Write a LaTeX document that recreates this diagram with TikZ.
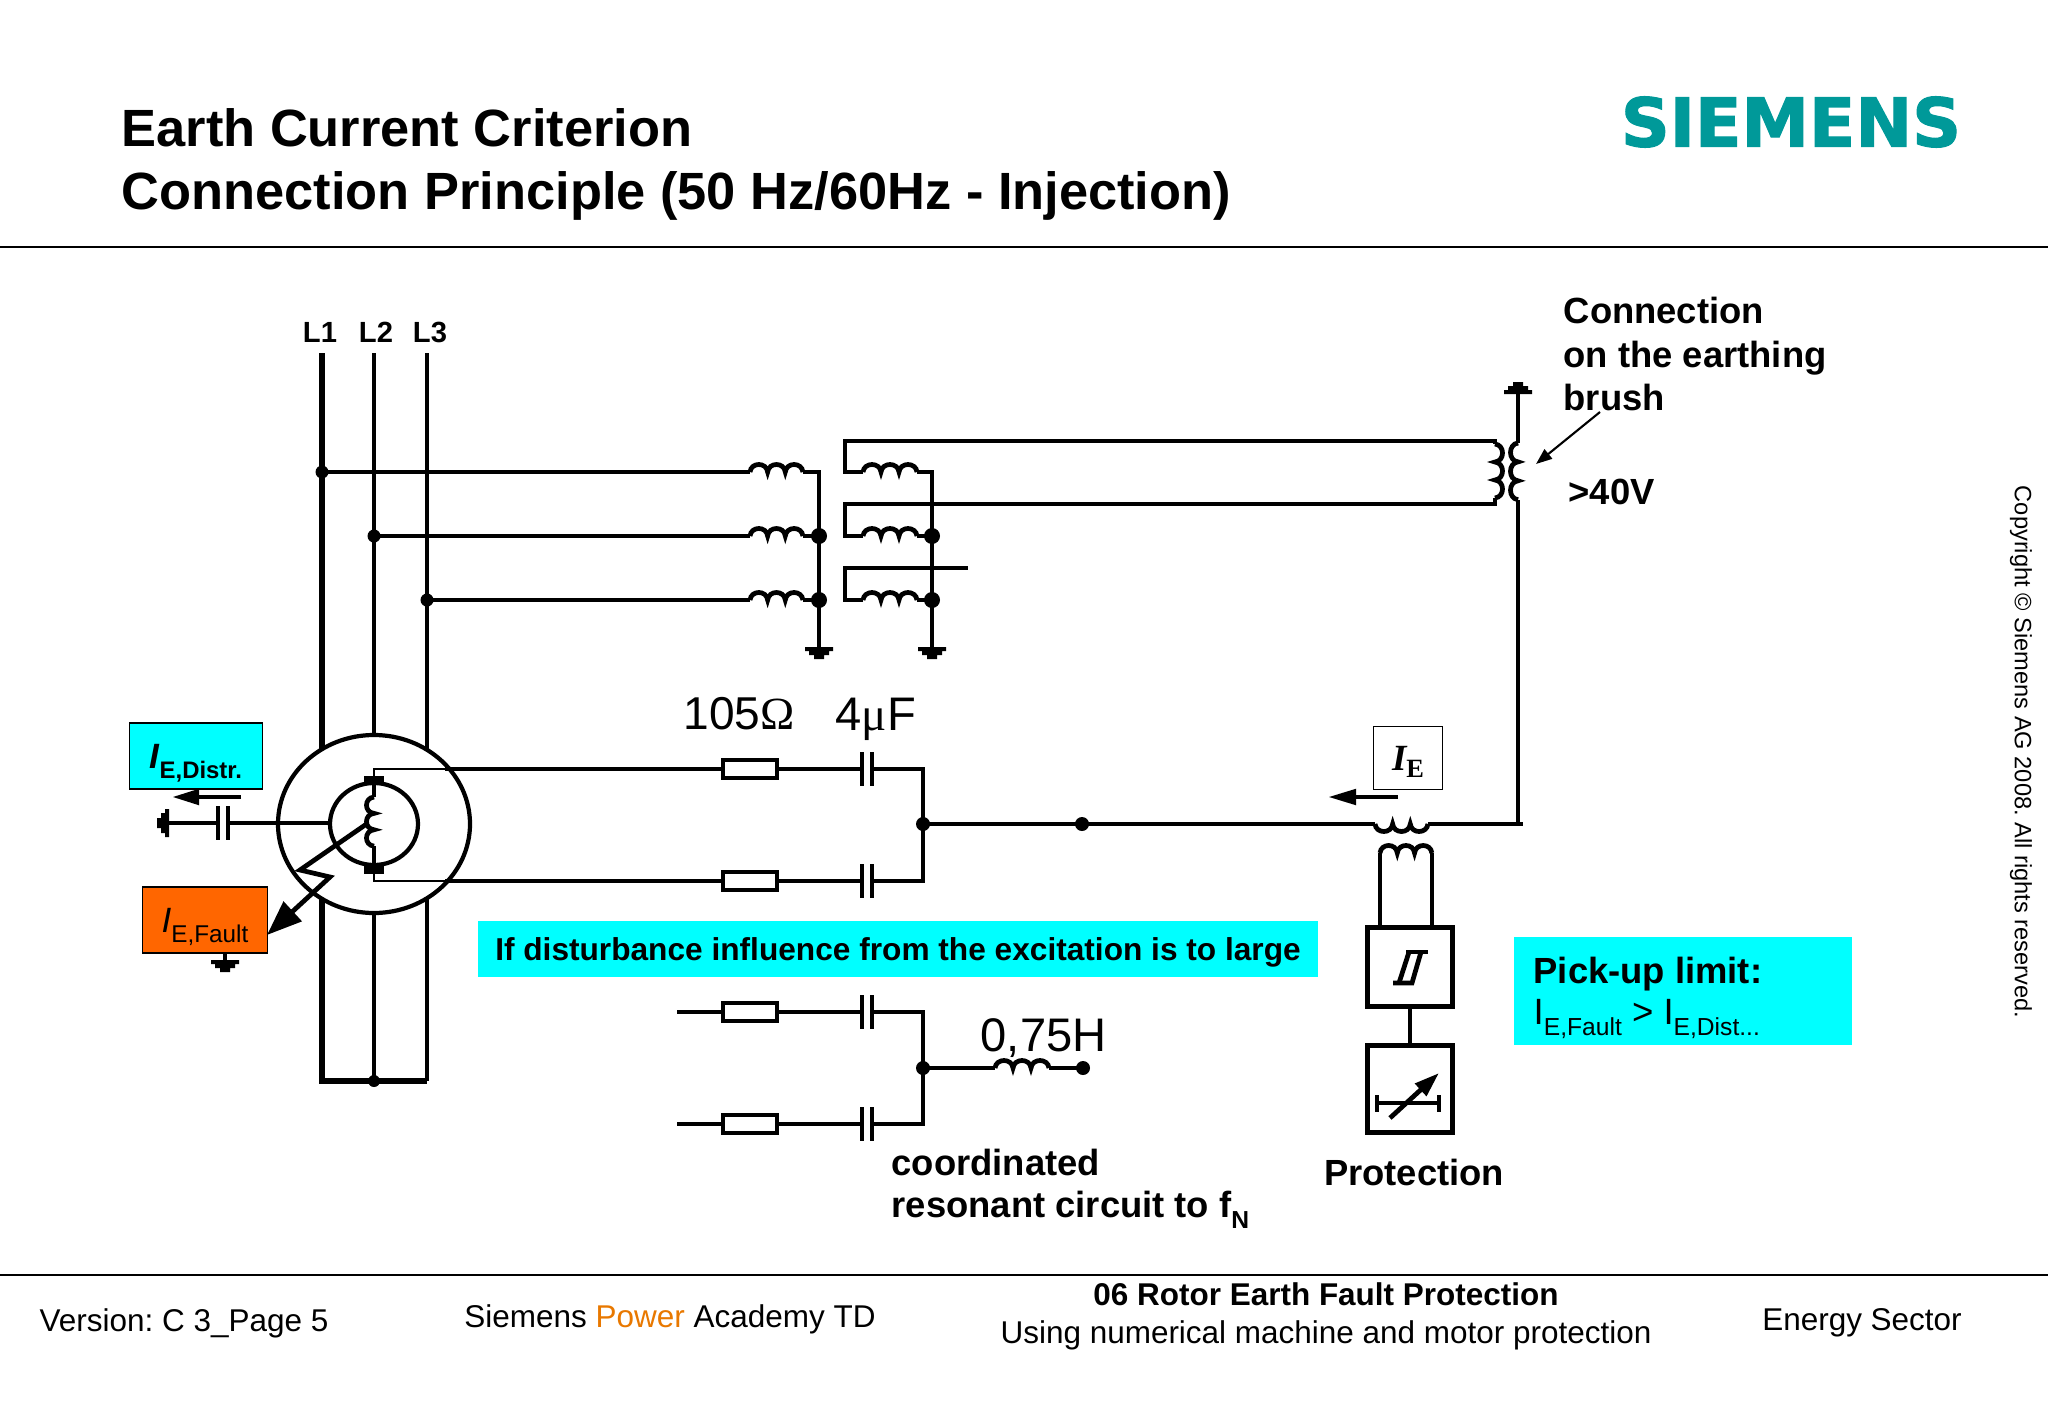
\documentclass[tikz,border=0pt]{standalone}
\usepackage{fontspec}
\setmainfont{Liberation Sans}
\newfontfamily\serifsym{Liberation Serif}
\newfontfamily\logofont[BoldFeatures={FakeBold=1.6}]{DejaVu Sans}
\usetikzlibrary{arrows.meta}
\frenchspacing
\definecolor{siemensteal}{HTML}{009999}
\definecolor{faultorange}{HTML}{FF6600}
\definecolor{powerorange}{HTML}{E87800}
\definecolor{hintcyan}{HTML}{00FFFF}
\def\fsize#1{\fontsize{#1}{#1}\selectfont}
\def\lowtext#1#2#3{\raisebox{-#1pt}{\fsize{#2}#3}}
\def\coil[#1](#2){\draw[wire,shift={(#2)},#1] (0,0) .. controls (1,-10) and (17,-10) .. (18,0) .. controls (19,-10) and (35,-10) .. (36,0) .. controls (37,-10) and (53,-10) .. (54,0);}
\def\earth[#1](#2){\fill[shift={(#2)},rotate=#1] (-14,0) rectangle (14,4) (-10,4) rectangle (10,8) (-5,8) rectangle (5,12);}
\def\resistor(#1){\draw[wire,fill=white,shift={(#1)}] (-27,-9) rectangle (27,9);}
\def\capacitor(#1){\fill[white,shift={(#1)}] (-5,-12) rectangle (5,12); \draw[wire,shift={(#1)}] (-5,-17) -- (-5,17) (5,-17) -- (5,17);}
\def\junction[#1](#2){\fill (#2) circle (#1);}
\tikzset{
	wire/.style={line width=1.35pt},
	thinwire/.style={line width=0.5pt},
	busbar/.style={line width=1.8pt},
	label/.style={inner sep=0pt,font=\bfseries\fsize{10.35}},
	value/.style={inner sep=0pt,font=\fsize{13.4}},
	foot/.style={inner sep=0pt,font=\fsize{8.95}},
	frame/.style={draw,line width=1.2pt,inner sep=0pt,minimum width=0.85cm},
	tag/.style={draw,line width=0.5pt,inner sep=0pt,text depth=0pt}
}

\begin{document}
\begin{tikzpicture}[x=0.01cm,y=-0.01cm]
			%%%%% START %%%%%
			\useasboundingbox (0,0) rectangle (2048,1418);

			\node[inner sep=0pt,anchor=west,font=\bfseries\fsize{14.9}] (title1) at (121,128) {Earth Current Criterion};
			\node[inner sep=0pt,anchor=west,font=\bfseries\fsize{14.9}] (title2) at (121,196) {Connection Principle (50 Hz/60Hz - Injection)};
			\node[inner sep=0pt,text=siemensteal] (logo) at (1791,122) {\resizebox{3.4cm}{0.5cm}{\logofont\bfseries SIEMENS}};
			\draw[line width=0.4pt] (0,247) -- (2048,247);
			\draw[line width=0.4pt] (0,1275) -- (2048,1275);

			\coordinate (l1top) at (322,353);
			\coordinate (l2top) at (374,353);
			\coordinate (l3top) at (427,353);
			\coordinate (l1bot) at (322,1081);
			\coordinate (l2bot) at (374,1081);
			\coordinate (l3bot) at (427,1081);
			\coordinate (l1tap) at (322,472);
			\coordinate (l2tap) at (374,536);
			\coordinate (l3tap) at (427,600);
			\node[inner sep=0pt,font=\bfseries\fsize{8.3}] (l1) at (320,332) {L1};
			\node[inner sep=0pt,font=\bfseries\fsize{8.3}] (l2) at (376,332) {L2};
			\node[inner sep=0pt,font=\bfseries\fsize{8.3}] (l3) at (430,332) {L3};
			\draw[busbar] (l1top) -- (l1bot) -- (l3bot);
			\draw[wire] (l3bot) -- (l3top);
			\draw[wire] (l2top) -- (l2bot);
			\junction[6.5](l1tap);
			\junction[6.5](l2tap);
			\junction[6.5](l3tap);
			\junction[6](l2bot);

			% voltage transformer
			\coordinate (priA) at (750,472);
			\coordinate (priB) at (750,536);
			\coordinate (priC) at (750,600);
			\coordinate (priAe) at (803,472);
			\coordinate (priBe) at (803,536);
			\coordinate (priCe) at (803,600);
			\coordinate (starA) at (819,472);
			\coordinate (starB) at (819,536);
			\coordinate (starC) at (819,600);
			\coordinate (starE) at (819,647);
			\draw[wire] (l1tap) -- (priA);
			\draw[wire] (l2tap) -- (priB);
			\draw[wire] (l3tap) -- (priC);
			\coil[xscale=0.98](priA);
			\coil[xscale=0.98](priB);
			\coil[xscale=0.98](priC);
			\draw[wire] (priAe) -- (starA) -- (starE);
			\draw[wire] (priBe) -- (starB);
			\draw[wire] (priCe) -- (starC);
			\junction[8](starB);
			\junction[8](starC);
			\earth[0](starE);

			\coordinate (secA) at (863,472);
			\coordinate (secB) at (863,536);
			\coordinate (secC) at (863,600);
			\coordinate (secAe) at (917,472);
			\coordinate (secBe) at (917,536);
			\coordinate (secCe) at (917,600);
			\coordinate (openA) at (932,472);
			\coordinate (openB) at (932,536);
			\coordinate (openC) at (932,600);
			\coordinate (openE) at (932,647);
			\coordinate (leftA) at (845,472);
			\coordinate (leftB) at (845,536);
			\coordinate (leftC) at (845,600);
			\coordinate (upA) at (845,441);
			\coordinate (upB) at (845,504);
			\coordinate (upC) at (845,568);
			\coordinate (deltaEnd) at (968,568);
			\coordinate (feedA) at (1495,441);
			\coordinate (feedB) at (1495,504);
			\coordinate (feedAc) at (1495,444);
			\coordinate (feedBc) at (1495,498);
			\draw[wire] (secA) -- (leftA) -- (upA) -- (feedA) -- (feedAc);
			\draw[wire] (secB) -- (leftB) -- (upB) -- (feedB) -- (feedBc);
			\draw[wire] (secC) -- (leftC) -- (upC) -- (deltaEnd);
			\coil[](secA);
			\coil[](secB);
			\coil[](secC);
			\draw[wire] (secAe) -- (openA) -- (openE);
			\draw[wire] (secBe) -- (openB);
			\draw[wire] (secCe) -- (openC);
			\junction[8](openB);
			\junction[8](openC);
			\earth[0](openE);

			% injection transformer
			\coordinate (brushE) at (1518,394);
			\coordinate (injTop) at (1518,443);
			\coordinate (injBot) at (1518,500);
			\coordinate (injCorner) at (1518,824);
			\coordinate (injEnd) at (1523,824);
			\coil[rotate=-90](feedAc);
			\coil[rotate=-90,yscale=-1,xscale=1.05](injTop);
			\draw[wire] (brushE) -- (injTop);
			\draw[wire] (injBot) -- (injCorner);
			\earth[180](brushE);

			% generator
			\coordinate (rotor) at (374,824);
			\coordinate (brushTop) at (374,769);
			\coordinate (brushBot) at (374,881);
			\coordinate (exitTop) at (445,769);
			\coordinate (exitBot) at (445,881);
			\coordinate (fieldTop) at (374,797);
			\coordinate (fieldBot) at (374,846);
			\coordinate (rotorIn) at (329,823);
			\coordinate (earthIn) at (169,823);
			\coordinate (capIn) at (223,823);
			\draw[line width=1.2pt,fill=white] (rotor) ellipse (96 and 89);
			\draw[line width=1.2pt] (rotor) ellipse (44 and 41);
			\draw[wire] (rotorIn) -- (earthIn);
			\capacitor(capIn);
			\earth[-90](earthIn);
			\draw[thinwire] (exitTop) -- (brushTop) -- (fieldTop);
			\draw[thinwire] (exitBot) -- (brushBot) -- (fieldBot);
			\draw[wire] (brushTop) ++(0,7) -- (fieldTop);
			\draw[wire] (brushBot) ++(0,-7) -- (fieldBot);
			\coil[rotate=-90,yscale=-1,xscale=0.91](fieldTop);
			\fill (364,776) rectangle (384,785);
			\fill (364,865) rectangle (384,874);

			% series branch
			\coordinate (mergeTop) at (923,769);
			\coordinate (mergeBot) at (923,881);
			\coordinate (merge) at (923,824);
			\coordinate (resTop) at (750,769);
			\coordinate (resBot) at (750,881);
			\coordinate (capTop) at (867,769);
			\coordinate (capBot) at (867,881);
			\coordinate (midDot) at (1082,824);
			\coordinate (ctPri) at (1375,824);
			\coordinate (ctPriE) at (1428,824);
			\draw[wire] (exitTop) -- (mergeTop) -- (mergeBot) -- (exitBot);
			\draw[wire] (merge) -- (ctPri);
			\draw[wire] (ctPriE) -- (injEnd);
			\resistor(resTop);
			\resistor(resBot);
			\capacitor(capTop);
			\capacitor(capBot);
			\junction[7](merge);
			\junction[7](midDot);
			\coil[yscale=-1,xscale=0.98](ctPri);
			\node[value,anchor=west,font=\fsize{13.1}] (ohm) at (683,714) {105{\serifsym Ω}};
			\node[value,anchor=west] (farad) at (835,719) {4{\serifsym μ}F};

			% tags
			\node[tag,fill=hintcyan,minimum width=1.33cm,minimum height=0.66cm] (distr) at (196,756) {\fsize{10}\bfseries\itshape I\lowtext{3}{6.8}{\upshape E,Distr.}};
			\node[tag,fill=faultorange,minimum width=1.25cm,minimum height=0.66cm] (fault) at (205,920) {\fsize{10}\itshape I\lowtext{3}{6.9}{\upshape E,Fault}};
			\coordinate (faultE) at (225,960);
			\coordinate (arrowA) at (241,797);
			\coordinate (arrowB) at (172,797);
			\coordinate (faultA) at (368,823);
			\coordinate (faultB) at (300,870);
			\coordinate (faultC) at (330,877);
			\coordinate (faultTip) at (267,935);
			\draw[wire] (fault.south -| faultE) -- (faultE);
			\earth[0](faultE);
			\draw[wire,-{Triangle[length=0.27cm,width=0.15cm]}] (arrowA) -- (arrowB);
			\draw[wire,-{Triangle[length=0.35cm,width=0.26cm]}] (faultA) -- (faultB) -- (faultC) -- (faultTip);

			% resonant alternative
			\coordinate (altA) at (677,1012);
			\coordinate (altB) at (677,1124);
			\coordinate (altTop) at (923,1012);
			\coordinate (altBot) at (923,1124);
			\coordinate (altMerge) at (923,1068);
			\coordinate (altRes1) at (750,1012);
			\coordinate (altRes2) at (750,1124);
			\coordinate (altCap1) at (867,1012);
			\coordinate (altCap2) at (867,1124);
			\coordinate (chokeA) at (995,1068);
			\coordinate (chokeB) at (1049,1068);
			\coordinate (chokeEnd) at (1083,1068);
			\draw[wire] (altA) -- (altTop) -- (altBot) -- (altB);
			\draw[wire] (altMerge) -- (chokeA);
			\draw[wire] (chokeB) -- (chokeEnd);
			\resistor(altRes1);
			\resistor(altRes2);
			\capacitor(altCap1);
			\capacitor(altCap2);
			\coil[](chokeA);
			\junction[7](altMerge);
			\junction[7](chokeEnd);
			\node[value,anchor=west] (henry) at (980,1038) {0,75H};

			\node[fill=hintcyan,minimum width=8.4cm,minimum height=0.56cm,inner sep=0pt,text depth=0pt,font=\bfseries\fsize{9}] (hint) at (898,949) {If disturbance influence from the excitation is to large};
			\node[label,anchor=west] (coord1) at (891,1162) {coordinated};
			\node[label,anchor=west] (coord2) at (891,1210) {resonant circuit to f\lowtext{3}{7}{N}};

			% measuring chain
			\node[tag,minimum width=0.69cm,minimum height=0.63cm,font=\serifsym\bfseries\itshape\fsize{10.5}] (ietag) at (1408,758) {I\lowtext{2}{7.5}{\upshape E}};
			\coordinate (ieA) at (1398,797);
			\coordinate (ieB) at (1328,797);
			\draw[wire,-{Triangle[length=0.28cm,width=0.15cm]}] (ieA) -- (ieB);
			\node[frame,minimum height=0.79cm] (limit) at (1410,967) {};
			\node[frame,minimum height=0.87cm] (meter) at (1410,1089) {};
			\coordinate (ctSec) at (1380,853);
			\coordinate (ctSecE) at (1432,853);
			\draw[wire] (limit.south) -- (meter.north);
			\draw[wire] (ctSec) -- (ctSec |- limit.north);
			\draw[wire] (ctSecE) -- (ctSecE |- limit.north);
			\coil[xscale=0.96](ctSec);
			\draw[wire] (1393,983) -- (1412,983) -- (1421,952);
			\draw[wire] (1399,983) -- (1409,952);
			\draw[wire] (1406,952) -- (1428,952);
			\draw[wire] (1377,1103) -- (1439,1103);
			\draw[wire] (1377,1095) -- (1377,1112);
			\draw[wire] (1439,1095) -- (1439,1112);
			\draw[wire,-{Triangle[length=0.25cm,width=0.16cm]}] (1390,1118) -- (1439,1073);

			% notes
			\node[label,anchor=west,align=left,font=\bfseries\fontsize{10.35}{12.5}\selectfont] (brushnote) at (1563,354) {Connection\\on the earthing\\brush};
			\coordinate (noteA) at (1600,412);
			\coordinate (noteB) at (1536,464);
			\draw[line width=0.6pt,-{Triangle[length=0.16cm,width=0.12cm]}] (noteA) -- (noteB);
			\node[label,anchor=west] (volt) at (1568,492) {>40V};
			\node[fill=hintcyan,minimum width=3.37cm,minimum height=1.07cm,inner sep=0pt] (pickbox) at (1683,991) {};
			\node[label,anchor=west] (pick1) at (1533,974) {Pick-up limit:};
			\node[inner sep=0pt,anchor=west,font=\fsize{10.4}] (pick2) at (1533,1019) {I\lowtext{3}{7}{E,Fault} > I\lowtext{3}{7}{E,Dist...}};
			\node[label] (prot) at (1414,1172) {Protection};

			% footer
			\node[foot,anchor=west] (version) at (39,1323) {Version: C 3\_Page 5};
			\node[foot] (academy) at (670,1319) {Siemens \textcolor{powerorange}{Power} Academy TD};
			\node[inner sep=0pt,font=\bfseries\fsize{8.95}] (foot1) at (1326,1294) {06 Rotor Earth Fault Protection};
			\node[foot] (foot2) at (1326,1335) {Using numerical machine and motor protection};
			\node[foot] (sector) at (1862,1323) {Energy Sector};
			\node[inner sep=0pt,rotate=-90,font=\fsize{6.72}] (copy) at (2021,752) {Copyright © Siemens AG 2008. All rights reserved.};
			%%%%% END %%%%%
		\end{tikzpicture}
\end{document}
